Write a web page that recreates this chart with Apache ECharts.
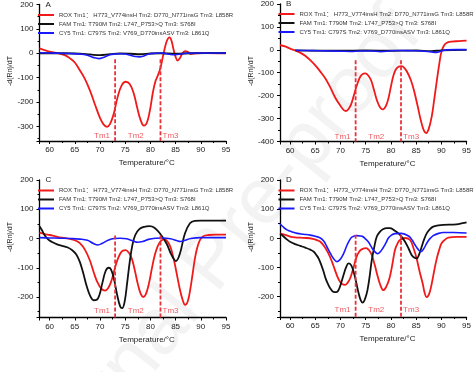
<!DOCTYPE html>
<html>
<head>
<meta charset="utf-8">
<script src="https://cdn.jsdelivr.net/npm/echarts@6/dist/echarts.min.js"></script>
<style>html,body{margin:0;padding:0;background:#fff;}#c{width:474px;height:372px;}</style>
</head>
<body>
<div id="c"></div>
<script>
// ---------- data ----------
const ROX = 'ROX Tm1： H773_V774insH Tm2: D770_N771insG Tm3: L858R';
const FAM = 'FAM Tm1: T790M Tm2: L747_P753>Q Tm3: S768I';
const CY5 = 'CY5 Tm1: C797S Tm2: V769_D770insASV Tm3: L861Q';
const panelLetters = ['A', 'B', 'C', 'D'];
const tmLabels = ['Tm1', 'Tm2', 'Tm3'];
const tmLabelX = [70.4, 77.1, 84.0];
const tmLabelY = [-338, -378, -247, -245];
const tmLineX = [73, 82];
const tmLineTop = [-25, -45, 10, 12];
const yMin = [-360, -400, -270, -270];
const yMax = [200, 200, 200, 200];
const xMin = 58, xMax = 95;

const roxA = [[58,20],[59,13],[60,7],[61,3],[62,-2],[63,-8],[64,-20],[65,-38],[66,-70],[67,-105],[68,-152],[69,-210],[70,-265],[70.7,-292],[71.4,-302],[72,-290],[72.7,-250],[73.5,-180],[74.3,-132],[75.1,-117],[75.9,-126],[76.7,-165],[77.4,-225],[78,-270],[78.7,-297],[79.3,-285],[79.9,-235],[80.5,-160],[81,-115],[81.5,-90],[82,-60],[82.5,-12],[83,33],[83.4,57],[83.8,65],[84.2,50],[84.6,15],[85,-15],[85.4,-30],[85.8,-22],[86.3,-3],[86.9,9],[87.4,6],[88,-3],[89,0],[91,1],[95,0]];
const famA = [[58,0],[62,0],[66,-2],[68,-5],[70,-8],[72,-4],[74,-1],[76,-2],[78,-4],[80,-1],[82,0],[85,-2],[88,0],[95,1]];
const cy5A = [[58,2],[60,1],[62,0],[64,-1],[66,-3],[67.5,-8],[68.8,-18],[69.8,-22],[70.8,-16],[72,-6],[73,-3],[74,-2],[75,-3],[76,-8],[77,-13],[77.8,-15],[78.7,-11],[79.7,-3],[81,0],[82,1],[83,-1],[84,-5],[85,-6],[86,-3],[87,0],[89,1],[92,1],[95,1]];

const roxB = [[58,20],[59,15],[60,5],[61,-3],[62,-12],[63,-26],[64,-45],[65,-68],[66,-95],[67,-125],[68,-165],[69,-210],[70,-245],[70.6,-262],[71.1,-267],[71.6,-258],[72.1,-238],[72.7,-195],[73.2,-158],[73.8,-122],[74.3,-107],[74.9,-103],[75.5,-112],[76.1,-135],[76.7,-180],[77.3,-225],[77.9,-253],[78.4,-260],[79,-245],[79.5,-212],[80,-160],[80.5,-112],[81,-85],[81.5,-74],[82.1,-71],[82.7,-80],[83.3,-100],[84,-135],[84.6,-180],[85.3,-245],[85.9,-305],[86.5,-350],[87,-363],[87.5,-345],[88.1,-290],[88.6,-215],[89.1,-135],[89.6,-60],[90,-10],[90.5,18],[91,30],[92,36],[93.5,38],[95,40]];
const famB = [[61,-2],[70,-4],[75,-3],[80,-4],[85,-3],[88,-6],[90,-2],[95,0]];
const cy5B = [[61,-2],[63,-3],[66,-4],[68,-5],[70,-6],[72,-7],[74,-5],[76,-5],[78,-8],[80,-4],[82,-3],[84,-4],[86,-5],[88,-9],[89,-11],[90,-5],[91,0],[93,1],[95,1]];

const roxC = [[58,20],[59,15],[60,12],[61,8],[62,4],[63,2],[64,-1],[65,-6],[66,-16],[67,-38],[68,-75],[68.8,-118],[69.5,-150],[70.3,-172],[71,-178],[71.6,-170],[72.2,-148],[72.8,-112],[73.4,-76],[74,-52],[74.5,-42],[75.1,-40],[75.7,-48],[76.3,-68],[76.9,-108],[77.5,-155],[78.1,-190],[78.6,-200],[79.1,-190],[79.7,-155],[80.3,-102],[80.9,-55],[81.5,-24],[82.1,-8],[82.8,-3],[83.4,-10],[84,-30],[84.6,-68],[85.2,-118],[85.8,-170],[86.4,-210],[86.9,-227],[87.4,-215],[87.9,-175],[88.4,-118],[88.9,-62],[89.4,-25],[89.9,-3],[90.5,8],[91.5,12],[93,13],[95,13]];
const famC = [[58,42],[58.5,28],[59,12],[59.7,-3],[60.5,-12],[61.5,-20],[62.5,-25],[63.5,-30],[64.5,-40],[65.3,-55],[66,-80],[66.7,-120],[67.4,-165],[68.1,-198],[68.7,-211],[69.3,-210],[69.9,-192],[70.5,-150],[71.1,-112],[71.7,-100],[72.2,-106],[72.8,-140],[73.4,-192],[74,-232],[74.4,-238],[74.9,-215],[75.4,-150],[75.9,-80],[76.4,-25],[77,12],[77.8,32],[78.8,40],[79.8,42],[80.8,37],[81.9,17],[83.2,-17],[84.2,-57],[85.05,-77],[85.85,-52],[86.85,17],[87.85,52],[88.8,60],[90,61],[92,61],[95,61]];
const cy5C = [[58,3],[60,2],[62,1],[64,0],[66,-2],[67.5,-6],[68.7,-17],[69.6,-22],[70.5,-16],[71.6,-6],[72.8,0],[74,1],[75.3,-1],[76.5,-8],[77.5,-13],[78.5,-10],[79.6,-3],[81,1],[82.5,2],[84,-1],[85.2,-7],[86,-10],[86.9,-6],[88,0],[90,3],[92,3],[95,3]];

const roxD = [[58,16],[59,12],[60,6],[61,3],[62,2],[63.3,1],[64.5,-2],[65.3,-6],[66,-12],[66.8,-28],[67.6,-52],[68.3,-80],[68.9,-109],[69.4,-132],[69.9,-149],[70.4,-158],[70.9,-160],[71.4,-153],[71.9,-138],[72.5,-105],[73.2,-63],[73.7,-46],[74.2,-38],[75.1,-34],[75.7,-42],[76.2,-57],[76.8,-92],[77.4,-132],[78,-165],[78.5,-178],[79.1,-165],[79.7,-138],[80.3,-88],[80.8,-40],[81.3,-18],[81.8,-6],[82.8,1],[83.8,-6],[84.5,-35],[85.1,-69],[85.7,-115],[86.3,-155],[86.7,-188],[87.1,-202],[87.6,-190],[88.1,-155],[88.6,-110],[89.1,-69],[89.6,-38],[90.05,-17],[90.7,-5],[91.4,2],[93,5],[95,5]];
const famD = [[58,16],[58.6,8],[59.3,-3],[60,-12],[61,-20],[62,-26],[63,-32],[64,-39],[64.7,-46],[65.2,-57],[65.65,-69],[66.2,-92],[66.65,-115],[67.1,-140],[67.6,-160],[68.1,-175],[68.6,-184],[69.2,-185],[69.6,-178],[70.1,-155],[70.6,-126],[71.1,-100],[71.6,-86],[72.1,-92],[72.6,-115],[73.1,-150],[73.6,-189],[74,-212],[74.4,-221],[74.9,-206],[75.35,-178],[75.8,-128],[76.2,-75],[76.7,-30],[77.2,6],[77.8,22],[78.4,31],[79.2,35],[79.8,35],[80.6,28],[81.5,17],[82.2,3],[82.8,-12],[83.5,-35],[84.1,-57],[84.6,-66],[85.1,-69],[85.6,-55],[86.1,-29],[86.6,-3],[87.1,17],[87.7,31],[88.4,40],[89.4,44],[90.4,46],[93,48],[94.2,52],[95,55]];
const cy5D = [[58,50],[58.7,38],[59.4,29],[60.4,22],[61.4,17],[62.7,14],[64,11],[65,7],[66,1],[66.7,-10],[67.3,-29],[68,-52],[68.6,-69],[69.3,-80],[69.8,-75],[70.3,-63],[70.8,-45],[71.3,-23],[71.8,-6],[72.25,4],[73.2,9],[74,8],[74.4,6],[75,-3],[75.5,-12],[76,-26],[76.6,-42],[77.4,-53],[77.9,-46],[78.4,-34],[79,-16],[79.5,1],[80.1,11],[80.8,16],[82.1,17],[83.5,8],[84.2,-6],[84.8,-23],[85.4,-38],[85.9,-46],[86.5,-36],[87.1,-17],[87.7,-2],[88.4,9],[89.3,16],[90.4,20],[92.5,20],[95,18]];

const roxAll = [roxA, roxB, roxC, roxD];
const famAll = [famA, famB, famC, famD];
const cy5All = [cy5A, cy5B, cy5C, cy5D];

// ---------- layout ----------
const grids = [
  {left: 39.5, top: 4.5, width: 186.5, height: 136.5},
  {left: 280, top: 3.5, width: 187, height: 138},
  {left: 39.5, top: 180, width: 186.5, height: 137.5},
  {left: 280, top: 180, width: 187, height: 137}
];
const FONT = '"Liberation Sans", Arial, "Noto Sans CJK SC", sans-serif';
const RED = '#f01a1a', BLACK = '#111111', BLUE = '#1a1aff';
const showMin = [false, true, false, false];
const ySplit = [5, 6, 5, 5];

const xAxes = [], yAxes = [], series = [], legends = [], graphics = [];
const axisCommon = {
  axisLine: {show: true, onZero: false, lineStyle: {color: '#000', width: 1.3}},
  axisTick: {show: true, inside: false, length: 3, lineStyle: {color: '#000', width: 1}},
  minorTick: {show: true, splitNumber: 2, length: 2, lineStyle: {color: '#000', width: 1}},
  splitLine: {show: false}
};
for (let i = 0; i < 4; i++) {
  xAxes.push(Object.assign({}, axisCommon, {
    gridIndex: i, type: 'value', min: xMin, max: xMax, splitNumber: 7,
    axisLabel: {showMinLabel: false, fontSize: 8, color: '#222', margin: 5, fontFamily: FONT}
  }));
  yAxes.push(Object.assign({}, axisCommon, {
    gridIndex: i, type: 'value', min: yMin[i], max: yMax[i], splitNumber: ySplit[i],
    axisLabel: {showMinLabel: showMin[i], fontSize: 8, color: '#222', margin: 6, fontFamily: FONT}
  }));
  const lineCommon = {type: 'line', xAxisIndex: i, yAxisIndex: i, showSymbol: false, symbol: 'none', smooth: 0.4, animation: false};
  series.push(Object.assign({}, lineCommon, {name: ROX, data: roxAll[i], lineStyle: {color: RED, width: 1.8}, itemStyle: {color: RED}}));
  series.push(Object.assign({}, lineCommon, {name: FAM, data: famAll[i], lineStyle: {color: BLACK, width: 1.8}, itemStyle: {color: BLACK}}));
  series.push(Object.assign({}, lineCommon, {name: CY5, data: cy5All[i], lineStyle: {color: BLUE, width: 1.6}, itemStyle: {color: BLUE}}));
  tmLineX.forEach(function (xv, k) {
    series.push({type: 'line', xAxisIndex: i, yAxisIndex: i, name: 'tmline' + k, symbol: 'none', animation: false, z: 5,
      data: [[xv, tmLineTop[i]], [xv, yMin[i]]],
      lineStyle: {color: '#e8323a', width: 1.8, type: [4, 2]}});
  });
  series.push({type: 'scatter', xAxisIndex: i, yAxisIndex: i, name: 'tmtext', symbolSize: 0, animation: false, silent: true,
    data: tmLabels.map(function (t, k) { return {name: t, value: [tmLabelX[k], tmLabelY[i]]}; }),
    label: {show: true, position: 'inside', formatter: '{b}', color: '#e8323a', fontSize: 8, fontFamily: FONT}});
  legends.push({
    data: [ROX, FAM, CY5], orient: 'vertical', left: grids[i].left - 1.5, top: grids[i].top + 6.5,
    padding: 0, itemGap: 1, itemWidth: 16, itemHeight: 2, icon: 'rect', selectedMode: false,
    textStyle: {fontSize: 6, color: '#333', fontFamily: FONT, lineHeight: 8}
  });
  // panel letter
  graphics.push({type: 'text', x: grids[i].left + 6, y: grids[i].top, style: {text: panelLetters[i], fontSize: 8, fill: '#222', font: '8px ' + FONT, textAlign: 'left', textVerticalAlign: 'middle'}});
  // axis names
  graphics.push({type: 'text', x: grids[i].left + grids[i].width / 2 + 14, y: grids[i].top + grids[i].height + 22,
    style: {text: 'Temperature/°C', font: '8px ' + FONT, fill: '#222', textAlign: 'center', textVerticalAlign: 'middle'}});
  graphics.push({type: 'text', x: grids[i].left - 29, y: (i < 2 ? 71 : 237), rotation: Math.PI / 2,
    style: {text: '-d(Rn)/dT', font: '7px ' + FONT, fill: '#222', textAlign: 'center', textVerticalAlign: 'middle'}});
}
// watermark
graphics.unshift({type: 'text', x: 214, y: 262, rotation: 51.5 * Math.PI / 180, z: -10, silent: true,
  style: {text: 'Journal Pre-proof', font: '80px "Liberation Sans", Arial, sans-serif', fill: '#f3f3f3', textAlign: 'center', textVerticalAlign: 'middle'}});

const chart = echarts.init(document.getElementById('c'), null, {renderer: 'canvas'});
chart.setOption({
  animation: false,
  backgroundColor: '#fff',
  grid: grids,
  xAxis: xAxes,
  yAxis: yAxes,
  legend: legends,
  series: series,
  graphic: {elements: graphics}
});
</script>
</body>
</html>
